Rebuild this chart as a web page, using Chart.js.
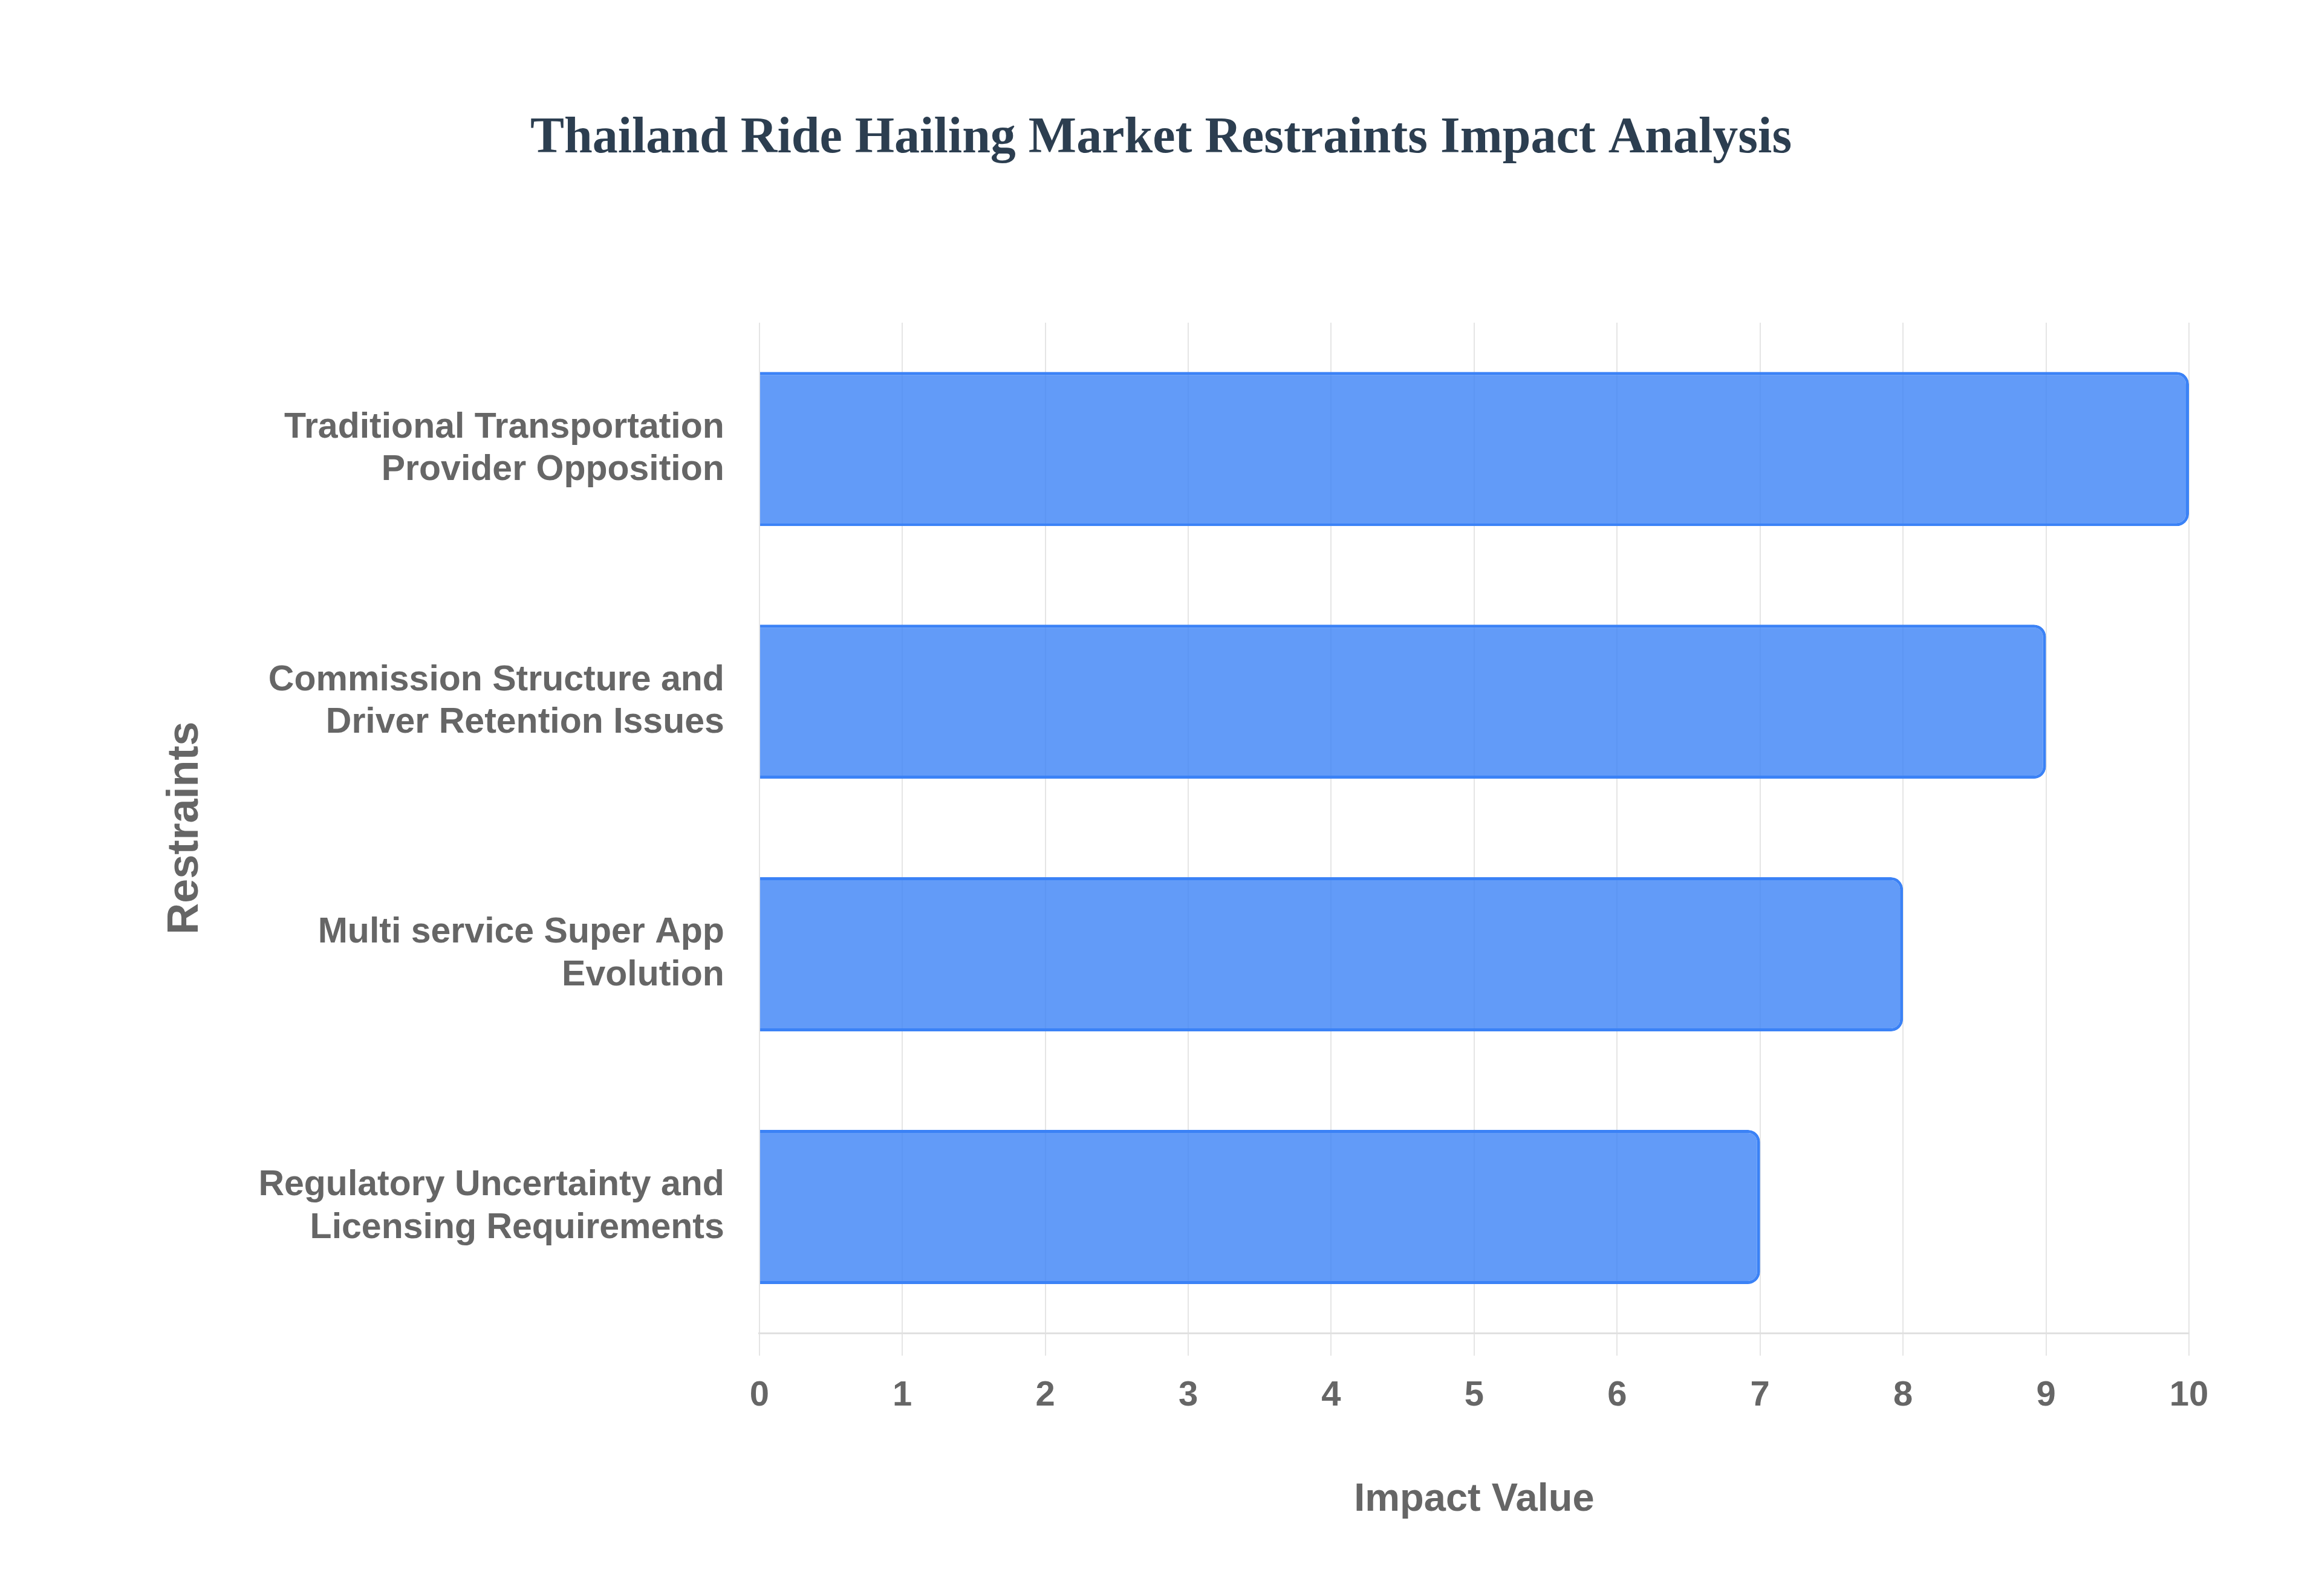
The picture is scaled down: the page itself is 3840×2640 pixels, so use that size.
<!DOCTYPE html>
<html>
<head>
<meta charset="utf-8">
<script src="https://cdn.jsdelivr.net/npm/chart.js@4.4.0/dist/chart.umd.min.js"></script>
<style>
html,body{margin:0;padding:0;background:#fff;}
#wrap{width:3840px;height:2640px;position:relative;}
</style>
</head>
<body>
<div id="wrap"><canvas id="c" width="3840" height="2640"></canvas></div>
<script>
const categories = [
  ["Traditional Transportation", "Provider Opposition"],
  ["Commission Structure and", "Driver Retention Issues"],
  ["Multi service Super App", "Evolution"],
  ["Regulatory Uncertainty and", "Licensing Requirements"]
];
const impactValues = [10, 9, 8, 7];
const chartTitle = "Thailand Ride Hailing Market Restraints Impact Analysis";
const xTitle = "Impact Value";
const yTitle = "Restraints";

new Chart(document.getElementById('c'), {
  type: 'bar',
  data: {
    labels: categories,
    datasets: [{
      label: 'Impact',
      data: impactValues,
      backgroundColor: 'rgba(59,130,246,0.8)',
      borderColor: 'rgb(59,130,246)',
      borderWidth: 5,
      borderRadius: 20,
      borderSkipped: 'start',
      barPercentage: 0.61,
      categoryPercentage: 1
    }]
  },
  options: {
    indexAxis: 'y',
    responsive: false,
    animation: false,
    devicePixelRatio: 1,
    layout: { padding: { top: 100, left: 220, right: 220, bottom: 80 } },
    plugins: {
      legend: { display: false },
      tooltip: { enabled: false },
      title: {
        display: true,
        text: chartTitle,
        color: '#2c3e50',
        font: { family: '"Liberation Serif", "Times New Roman", serif', size: 84, weight: 'bold' },
        padding: { top: 80, bottom: 253 }
      }
    },
    scales: {
      x: {
        min: 0, max: 10,
        ticks: { stepSize: 1, color: '#666', padding: 32, font: { family: '"Liberation Sans", Arial, sans-serif', size: 58, weight: 'bold' } },
        grid: { color: 'rgba(0,0,0,0.1)', lineWidth: 2, tickLength: 37 },
        border: { color: 'rgba(0,0,0,0.12)', width: 3 },
        title: { display: true, text: xTitle, color: '#666', padding: { top: 66, bottom: 40 }, font: { family: '"Liberation Sans", Arial, sans-serif', size: 65, weight: 'bold' } }
      },
      y: {
        ticks: { color: '#666', padding: 58, font: { family: '"Liberation Sans", Arial, sans-serif', size: 59, weight: 'bold' } },
        grid: { display: false, drawTicks: false },
        border: { display: false },
        title: { display: true, text: yTitle, color: '#666', padding: { top: 44, bottom: 19 }, font: { family: '"Liberation Sans", Arial, sans-serif', size: 72, weight: 'bold' } }
      }
    }
  }
});
</script>
</body>
</html>
